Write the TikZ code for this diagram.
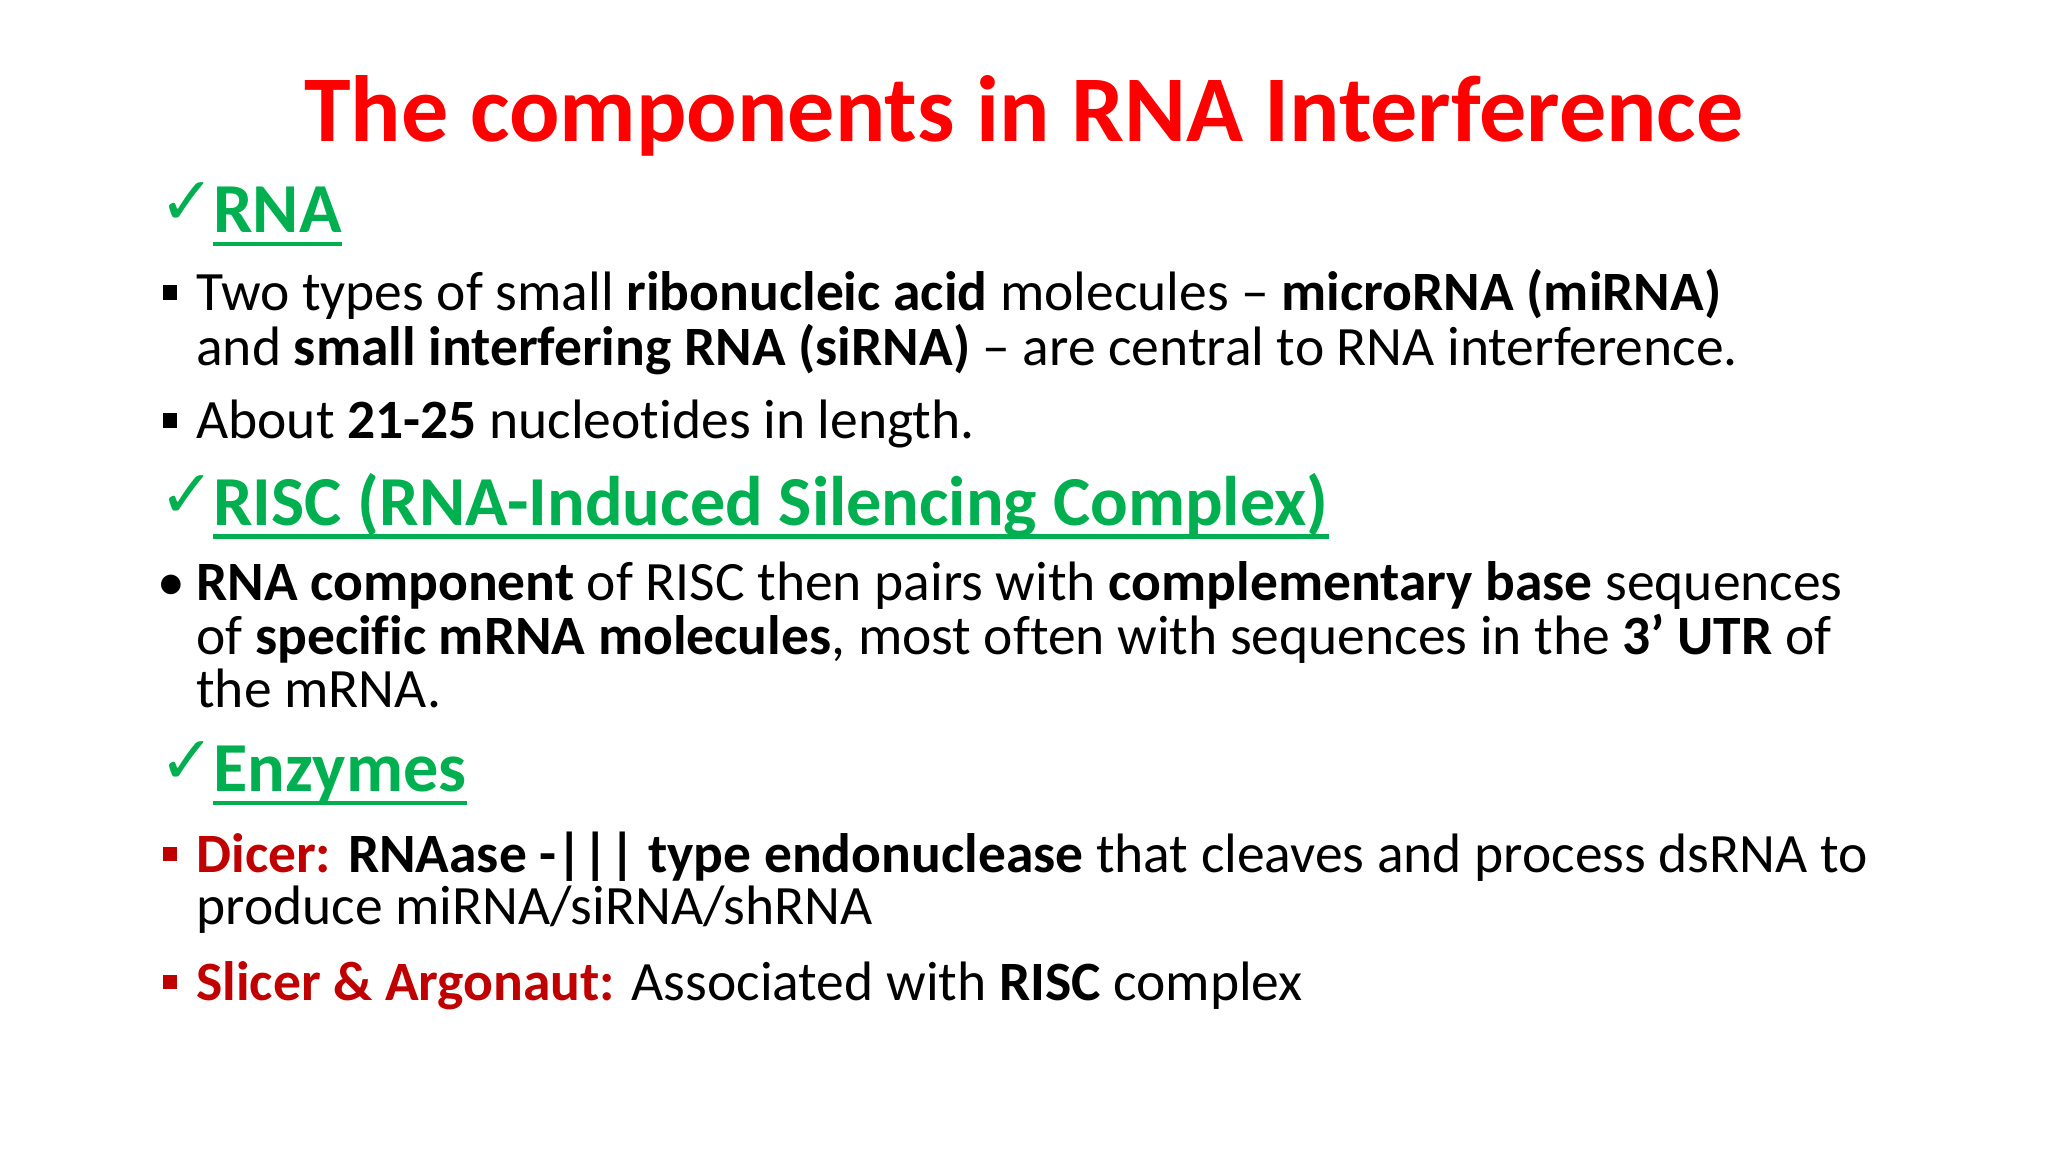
\documentclass[tikz,border=0pt]{standalone}
\usepackage{fontspec}
\setmainfont{Carlito}[Ligatures={TeX,NoCommon}]
\newfontfamily\dvs{DejaVu Sans}
\definecolor{tred}{HTML}{FF0000}
\definecolor{hgreen}{HTML}{00B050}
\definecolor{dred}{HTML}{C00000}
\tikzset{
 txt/.style={anchor=base west,inner sep=0pt,font=\fontsize{24.2}{28}\selectfont},
 head/.style={anchor=base west,inner sep=0pt,font=\fontsize{30.6}{36}\selectfont\bfseries,text=hgreen},
 chk/.style={anchor=base west,inner sep=0pt,font=\fontsize{29}{32}\dvs\bfseries,text=hgreen},
 ul/.style={hgreen,line width=1.8pt},
 sq/.style={fill=black,minimum size=0.22cm,inner sep=0pt},
}
\begin{document}
\begin{tikzpicture}[x=0.02cm,y=-0.02cm]
\useasboundingbox[fill=white] (0,0) rectangle (1568,882);
\node[anchor=base,inner sep=0pt,font=\fontsize{41}{48}\selectfont\bfseries,text=tred] (title) at (784,108) {The components in RNA Interference};
% RNA
\node[chk] (c1) at (122,172) {✓};
\node[head] (h1) at (163,178) {RNA};
\draw[ul] ([yshift=-5pt]h1.base west) -- ([yshift=-5pt]h1.base east);
\node[sq] (b1) at (130,224) {};
\node[txt] (l1) at (150,238) {Two types of small \textbf{ribonucleic acid} molecules – \textbf{microRNA (miRNA)}};
\node[txt] (l2) at (150,280) {and \textbf{small interfering RNA (siRNA)} – are central to RNA interference.};
\node[sq] (b2) at (130,322) {};
\node[txt] (l3) at (150,336) {About \textbf{21-25} nucleotides in length.};
% RISC
\node[chk] (c2) at (122,396) {✓};
\node[head] (h2) at (163,402) {RISC (RNA-Induced Silencing Complex)};
\draw[ul] ([yshift=-5pt]h2.base west) -- ([yshift=-5pt]h2.base east);
\node[txt] (b3) at (120,460) {•};
\node[txt] (l4) at (150,460) {\textbf{RNA component} of RISC then pairs with \textbf{complementary base} sequences};
\node[txt] (l5) at (150,501) {of \textbf{specific mRNA molecules}, most often with sequences in the \textbf{3’ UTR} of};
\node[txt] (l6) at (150,542) {the mRNA.};
% Enzymes
\node[chk] (c3) at (122,600) {✓};
\node[head] (h3) at (163,606) {Enzymes};
\draw[ul] ([yshift=-5pt]h3.base west) -- ([yshift=-5pt]h3.base east);
\node[sq,fill=dred] (b4) at (130,654) {};
\node[txt] (l7) at (150,668) {\textbf{\textcolor{dred}{Dicer:}} \textbf{RNAase -|||  type endonuclease} that cleaves and process dsRNA to};
\node[txt] (l8) at (150,708) {produce miRNA/siRNA/shRNA};
\node[sq,fill=dred] (b5) at (130,752) {};
\node[txt] (l9) at (150,766) {\textbf{\textcolor{dred}{Slicer \& Argonaut:}} Associated with \textbf{RISC} complex};
\end{tikzpicture}
\end{document}
